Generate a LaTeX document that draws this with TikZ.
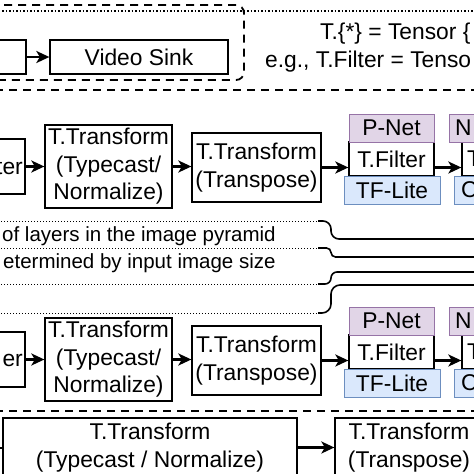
\documentclass[tikz,border=0pt]{standalone}
\usepackage{fontspec}
\setmainfont{Liberation Sans}
\usetikzlibrary{arrows.meta}
\definecolor{purpfill}{HTML}{E1D5E7}
\definecolor{purpline}{HTML}{9673A6}
\definecolor{bluefill}{HTML}{DAE8FC}
\definecolor{blueline}{HTML}{6C8EBF}
\begin{document}
\begin{tikzpicture}[x=1pt,y=-1pt,
 box/.style={draw, line width=1.3pt, inner sep=0pt, align=center, font=\fontsize{22.8}{27.5}\selectfont},
 txt/.style={inner sep=0pt, font=\fontsize{22.8}{27.5}\selectfont},
 small/.style={inner sep=0pt, font=\fontsize{20.5}{24}\selectfont},
 purp/.style={box, fill=purpfill, draw=purpline, line width=0.9pt},
 blu/.style={box, fill=bluefill, draw=blueline, line width=0.9pt},
 arr/.style={-{Stealth[length=13pt,width=12pt,inset=3.5pt]}, line width=2.2pt},
 dsh/.style={line width=1.8pt, dash pattern=on 8pt off 6pt},
 dtt/.style={line width=0.9pt, dash pattern=on 1pt off 2pt},
 dtb/.style={line width=1.5pt, dash pattern=on 1.5pt off 2pt},
 brc/.style={line width=1.6pt},
]
\useasboundingbox (0,0) rectangle (474,474);
\clip (0,0) rectangle (474,474);
\fill[white] (0,0) rectangle (474,474);

% top section
\draw[dsh, rounded corners=8pt] (-10,5) -- (244,5) -- (244,80) -- (-10,80);
\draw[dtb] (-5,11) -- (480,11);
\node[box, minimum width=80pt, minimum height=34pt] (lb0) at (-14,57) {};
\node[box, minimum width=178pt, minimum height=34pt] (vs) at (139,57) {Video Sink};
\draw[arr] (lb0) -- (vs);
\node[txt, anchor=base west] (lg1) at (320,39) {T.\{*\} = Tensor \{};
\node[txt, anchor=base west] (lg2) at (265,67) {e.g., T.Filter = Tenso};
\draw[dsh] (-5,90) -- (480,90);

% pipeline rows
\foreach \r/\dy/\lt in {1/0/ter, 2/193/er} {
  \node[box, minimum width=80pt, minimum height=55pt] (lb\r) at (-15,{166.5+\dy}) {};
  \node[txt, anchor=east] (lt\r) at (23,{167+\dy}) {\lt};
  \node[box, minimum width=127pt, minimum height=83pt] (tc\r) at (108.5,{166.5+\dy}) {T.Transform\\(Typecast/\\Normalize)};
  \node[box, minimum width=129pt, minimum height=69pt] (tp\r) at (256.5,{167.5+\dy}) {T.Transform\\(Transpose)};
  \node[box, minimum width=85pt, minimum height=34pt] (tf\r) at (391.5,{159+\dy}) {T.Filter};
  \node[purp, minimum width=85pt, minimum height=28pt] (pn\r) at (391.5,{128+\dy}) {P-Net};
  \node[blu, minimum width=96pt, minimum height=28pt] (tl\r) at (392,{190+\dy}) {TF-Lite};
  \node[box, minimum width=85pt, minimum height=34pt] (tg\r) at (504.5,{159+\dy}) {};
  \node[txt, anchor=west] (tgt\r) at (467,{159+\dy}) {T};
  \node[purp, minimum width=85pt, minimum height=28pt] (pm\r) at (491.5,{128+\dy}) {};
  \node[txt, anchor=west] (pmt\r) at (455,{128+\dy}) {N};
  \node[blu, minimum width=96pt, minimum height=28pt] (tm\r) at (502,{190+\dy}) {};
  \node[txt, anchor=west] (tmt\r) at (461,{190+\dy}) {C};
  \draw[arr] (lb\r) -- (tc\r);
  \draw[arr] (tc\r.east) -- (tc\r.east -| tp\r.west);
  \draw[arr] (tp\r.east) -- (tp\r.east -| tf\r.west);
  \draw[arr] (tf\r.east |- tp\r.east) -- (tg\r.west |- tp\r.east);
}

% middle: pyramid annotations
\node[small, anchor=base west] (m1) at (2,241) {of layers in the image pyramid};
\node[small, anchor=base west] (m2) at (3,268) {etermined by input image size};
\coordinate (d1a) at (-5,221); \coordinate (d1b) at (318,221);
\coordinate (d2a) at (-5,248); \coordinate (d2b) at (318,248);
\coordinate (d3a) at (-5,284); \coordinate (d3b) at (318,284);
\coordinate (d4a) at (-5,313); \coordinate (d4b) at (318,313);
\draw[dtt] (d1a) -- (d1b);
\draw[dtt] (d2a) -- (d2b);
\draw[dtt] (d3a) -- (d3b);
\draw[dtt] (d4a) -- (d4b);
\draw[brc, rounded corners=8pt] (d1b) -- (331,221) -- (331,239) -- (480,239);
\draw[brc, rounded corners=4.5pt] (d2b) -- (331,248) -- (331,257) -- (480,257);
\draw[brc, rounded corners=6pt] (d3b) -- (331,284) -- (331,272) -- (480,272);
\draw[brc, rounded corners=9pt] (d4b) -- (331,313) -- (331,285) -- (480,285);

% bottom
\draw[dsh] (-5,411) -- (480,411);
\node[box, minimum width=294pt, minimum height=59pt] (bt) at (150,447.5) {T.Transform\\(Typecast / Normalize)};
\node[box, minimum width=148pt, minimum height=59pt] (bp) at (409,447.5) {T.Transform\\(Transpose)};
\coordinate (bin) at (-2,447.5);
\draw[line width=2pt] (bin) -- (bt.west);
\draw[arr] (bt) -- (bp);
\end{tikzpicture}
\end{document}
